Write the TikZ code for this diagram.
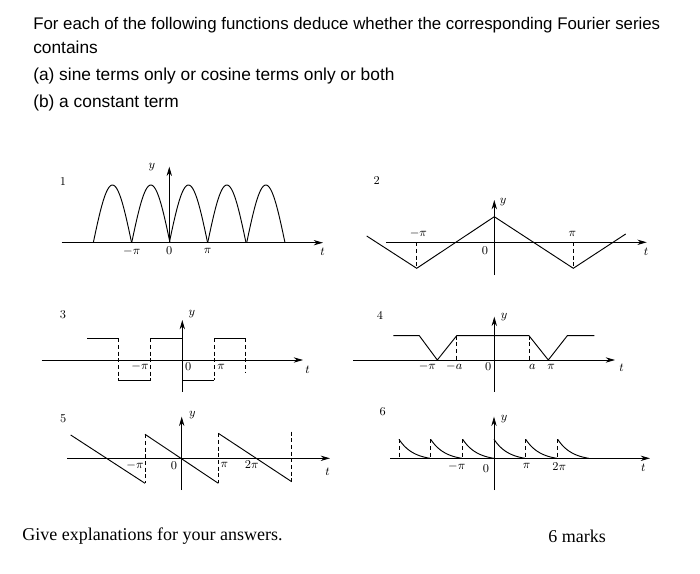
\documentclass[tikz,border=0pt]{standalone}
\usepackage{fontspec}
\newfontfamily\hdr{Liberation Sans}
\newfontfamily\tms{Liberation Serif}
\usetikzlibrary{arrows.meta}
\begin{document}
\begin{tikzpicture}[x=0.75pt,y=-0.75pt,
  ax/.style={line width=0.6pt,-{Stealth[length=7pt,width=4pt]}},
  yax/.style={line width=0.6pt,-{Stealth[length=7pt,width=4pt]}},
  crv/.style={line width=0.7pt},
  dsh/.style={dashed,line width=0.5pt,dash pattern=on 3pt off 2pt},
  lb/.style={font=\fontsize{9}{10}\selectfont,inner sep=0pt},
  htxt/.style={font=\hdr\fontsize{13}{15}\selectfont,anchor=west,inner sep=0pt},
  ftxt/.style={font=\tms\fontsize{13.5}{15}\selectfont,anchor=west,inner sep=0pt}]
\useasboundingbox (0,0) rectangle (700,574);
% header
\node[htxt] (h1) at (33,25) {\resizebox{627\dimexpr0.75pt\relax}{!}{For each of the following functions deduce whether the corresponding Fourier series}};
\node[htxt] (h2) at (33,47) {contains};
\node[htxt] (h3) at (33,76) {(a) sine terms only or cosine terms only or both};
\node[htxt] (h4) at (33,103) {(b) a constant term};
\node[ftxt] (f1) at (22,536) {Give explanations for your answers.};
\node[ftxt] (f2) at (548,536) {6 marks};
% ---------- graph 1
\node[lb] (n1) at (63,182) {1};
\draw[ax] (61.7,242.7) -- (323,242.7);
\draw[yax] (169.3,243) -- (169.3,166.7);
\foreach \s in {93.3,131.7,169.3,207.7,246.7}
  \draw[crv] plot[domain=0:180,samples=40,smooth] ({\s+\x/180*38.3},{242.7-57.7*sin(\x)});
\node[lb] at (131.7,251) {$-\pi$};
\node[lb] at (169.3,251) {$0$};
\node[lb] at (207.7,251) {$\pi$};
\node[lb] at (322.7,252) {$t$};
\node[lb] at (152,167) {$y$};
% ---------- graph 3
\node[lb] (n3) at (63,315) {3};
\draw[ax] (41.7,360) -- (303,360);
\draw[yax] (182.3,391.7) -- (182.3,320);
\draw[crv] (87.3,338.3) -- (118.3,338.3);
\draw[crv] (118.3,380) -- (150.7,380);
\draw[crv] (150.7,338.3) -- (182.3,338.3);
\draw[crv] (182.3,380) -- (214.3,380);
\draw[crv] (214.3,338.3) -- (245.7,338.3);
\foreach \s in {118.3,150.7,214.3} \draw[dsh] (\s,338.3) -- (\s,380);
\draw[dsh] (245.7,338.3) -- (245.7,372);
\node[lb] at (140,366.7) {$-\pi$};
\node[lb] at (188.3,366.7) {$0$};
\node[lb] at (221,366.7) {$\pi$};
\node[lb] at (307.7,370) {$t$};
\node[lb] at (192,314) {$y$};
% ---------- graph 2
\node[lb] (n2) at (376.7,180.7) {2};
\draw[ax] (386,242.3) -- (646.7,242.3);
\draw[yax] (494.3,275) -- (494.3,200);
\draw[crv] (366.7,236) -- (416.7,268.3) -- (494.3,216.7) -- (573.3,268.3) -- (625.7,234);
\draw[dsh] (416.7,242.3) -- (416.7,268.3);
\draw[dsh] (573.3,242.3) -- (573.3,268.3);
\node[lb] at (418.3,234) {$-\pi$};
\node[lb] at (572.3,234) {$\pi$};
\node[lb] at (485,250.7) {$0$};
\node[lb] at (646,252) {$t$};
\node[lb] at (503,201.7) {$y$};
% ---------- graph 4
\node[lb] (n4) at (380,315) {4};
\draw[ax] (353.3,360) -- (615,360);
\draw[yax] (494.3,391.7) -- (494.3,316.7);
\draw[crv] (393.3,335.7) -- (419.3,335.7) -- (437.3,360) -- (456.7,335.7) -- (529,335.7) -- (548.3,360) -- (567.3,335.7) -- (594.3,335.7);
\draw[dsh] (456.7,335.7) -- (456.7,360);
\draw[dsh] (529,335.7) -- (529,360);
\node[lb] at (427.3,366.7) {$-\pi$};
\node[lb] at (454.3,366.7) {$-a$};
\node[lb] at (488.3,366.7) {$0$};
\node[lb] at (532.3,366.7) {$a$};
\node[lb] at (551,366.7) {$\pi$};
\node[lb] at (621.7,368.3) {$t$};
\node[lb] at (504,316.7) {$y$};
% ---------- graph 5
\node[lb] (n5) at (63.3,419) {5};
\draw[ax] (67.3,458.3) -- (330,458.3);
\draw[yax] (181.7,490) -- (181.7,416.7);
\draw[crv] (70.7,435) -- (145,483.3);
\draw[crv] (145,434.3) -- (218.3,483.3);
\draw[crv] (218.3,433.3) -- (291.7,481.7);
\draw[dsh] (145,434.3) -- (145,483.3);
\draw[dsh] (218.3,433.3) -- (218.3,483.3);
\draw[dsh] (291.7,431.7) -- (291.7,481.7);
\node[lb] at (135,465) {$-\pi$};
\node[lb] at (174,466) {$0$};
\node[lb] at (224.3,465) {$\pi$};
\node[lb] at (251.7,465) {$2\pi$};
\node[lb] at (327.7,471.7) {$t$};
\node[lb] at (192.3,415) {$y$};
% ---------- graph 6
\node[lb] (n6) at (382.7,411.7) {6};
\draw[ax] (390,458.3) -- (650,458.3);
\draw[yax] (494,490) -- (494,416.7);
\foreach \s in {399,430.7,462.7,494,525.7,557.7} {
  \draw[crv] plot[domain=0:1,samples=25,smooth] ({\s+31*\x},{458.3-19*(exp(-2.2*\x)-exp(-2.2))/(1-exp(-2.2))});
  \draw[dsh] (\s,439.3) -- (\s,458.3);
}
\node[lb] at (456.7,466.7) {$-\pi$};
\node[lb] at (486,468.3) {$0$};
\node[lb] at (526.7,466) {$\pi$};
\node[lb] at (559.3,466.7) {$2\pi$};
\node[lb] at (643.3,468.3) {$t$};
\node[lb] at (504,419) {$y$};
\end{tikzpicture}
\end{document}
